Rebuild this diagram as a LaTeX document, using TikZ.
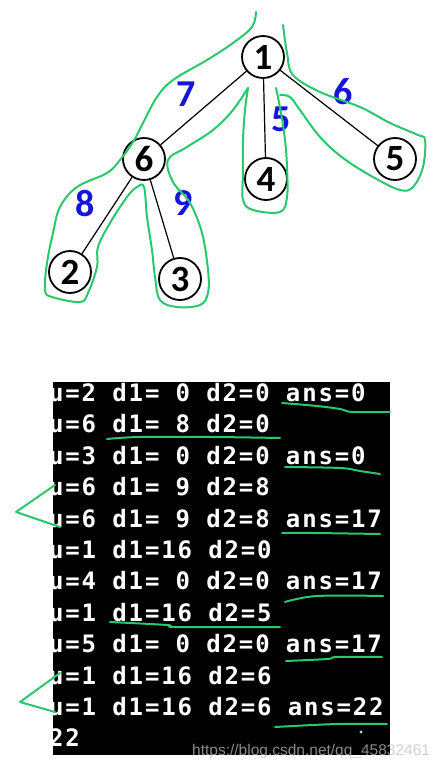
\documentclass[tikz,border=0pt]{standalone}
\usepackage{fontspec}
\setmainfont{Carlito}
\newfontfamily\consfont[LetterSpace=7.6]{DejaVu Sans Mono}
\newfontfamily\wmfont{Liberation Sans}
\definecolor{hand}{RGB}{40,200,110}
\definecolor{lbl}{RGB}{20,20,220}
\definecolor{wmark}{gray}{0.75}
\begin{document}
\begin{tikzpicture}[x=1pt,y=-1pt,
  vtx/.style={circle,draw,line width=1.8pt,minimum size=42pt,inner sep=0pt,
    font=\fontsize{37}{37}\selectfont\bfseries},
  wlbl/.style={text=lbl,inner sep=0pt,font=\fontsize{38}{38}\selectfont\bfseries},
  edge/.style={line width=1.2pt},
  pen/.style={hand,line width=2pt,line cap=round,line join=round},
  cons/.style={text=white,anchor=base west,inner sep=0pt,
    font=\fontsize{24}{24}\consfont\bfseries}]
\useasboundingbox (0,0) rectangle (443,770);
\fill[white] (0,0) rectangle (443,770);

% tree
\node[vtx] (n1) at (263,57) {1};
\node[vtx] (n6) at (144,159) {6};
\node[vtx] (n4) at (266,179) {4};
\node[vtx] (n5) at (395,159) {5};
\node[vtx] (n2) at (70,272) {2};
\node[vtx] (n3) at (180,279) {3};
\draw[edge] (n1) -- (n6);
\draw[edge] (n1) -- (n4);
\draw[edge] (n1) -- (n5);
\draw[edge] (n6) -- (n2);
\draw[edge] (n6) -- (n3);

\node[wlbl] (w7) at (186,94) {7};
\node[wlbl] (w6) at (343,92) {6};
\node[wlbl] (w5) at (281,119) {5};
\node[wlbl] (w8) at (85,204) {8};
\node[wlbl] (w9) at (183,203) {9};

% hand-drawn outline
\draw[pen] plot[smooth,tension=0.6] coordinates {(256,12) (252,27) (233,43) (207,60) (173,80)
  (157,97) (143,123) (133,142) (120,160) (107,173) (77,187) (60,207) (53,233) (47,263) (45,290)
  (52,297) (80,302) (88,293) (97,267) (98,247) (110,223) (127,197) (137,187) (144,187)
  (147,217) (152,250) (155,277) (160,300) (177,307) (200,305) (208,293) (208,270) (202,233)
  (190,203) (173,182) (168,160) (187,147) (213,130) (233,110) (248,88)};
\draw[pen] plot[smooth,tension=0.6] coordinates {(248,88) (245,110) (243,140) (243,173) (243,200)
  (253,210) (280,212) (287,197) (287,167) (285,140) (281,113) (276,88)};
\draw[pen] plot[smooth,tension=0.6] coordinates {(280,95) (290,97) (300,110) (320,137) (343,158)
  (373,177) (400,190) (413,187) (423,167) (425,140) (418,135) (390,123) (360,107) (320,92)
  (293,75) (287,53) (283,25)};

% console
\fill[black] (53,382) rectangle (390,755);
\begin{scope}
\clip (53,382) rectangle (390,755);
\node[cons] (l1) at (49,401.5) {u=2 d1=~0 d2=0 ans=0};
\node[cons] (l2) at (49,432.9) {u=6 d1=~8 d2=0};
\node[cons] (l3) at (49,464.3) {u=3 d1=~0 d2=0 ans=0};
\node[cons] (l4) at (49,495.7) {u=6 d1=~9 d2=8};
\node[cons] (l5) at (49,527.1) {u=6 d1=~9 d2=8 ans=17};
\node[cons] (l6) at (49,558.5) {u=1 d1=16 d2=0};
\node[cons] (l7) at (49,589.9) {u=4 d1=~0 d2=0 ans=17};
\node[cons] (l8) at (49,621.3) {u=1 d1=16 d2=5};
\node[cons] (l9) at (49,652.7) {u=5 d1=~0 d2=0 ans=17};
\node[cons] (l10) at (49,684.1) {u=1 d1=16 d2=6};
\node[cons] (l11) at (49,715.5) {u=1 d1=16 d2=6 ans=22};
\node[cons] (l12) at (49,746.9) {22};
\end{scope}

% underlines and brackets
\draw[pen] plot[smooth,tension=0.6] coordinates {(282,403) (317,406) (340,409) (353,412) (390,412)};
\draw[pen] plot[smooth,tension=0.6] coordinates {(107,439) (140,437) (213,437) (280,438)};
\draw[pen] plot[smooth,tension=0.6] coordinates {(285,467) (340,468) (360,471) (380,474)};
\draw[pen] (55,485) -- (16,512) -- (60,527);
\draw[pen] plot[smooth,tension=0.6] coordinates {(282,533) (313,533) (380,534)};
\draw[pen] plot[smooth,tension=0.6] coordinates {(285,602) (317,596) (383,596)};
\draw[pen] plot[smooth,tension=0.6] coordinates {(110,622) (167,625) (177,627) (280,627)};
\draw[pen] plot[smooth,tension=0.6] coordinates {(286,661) (327,659) (337,657) (382,657)};
\draw[pen] (60,673) -- (20,702) -- (55,712);
\draw[pen] plot[smooth,tension=0.6] coordinates {(275,727) (337,724) (387,724)};

\fill[cyan!40!white] (361,732) circle (1.6);

% watermark
\node[anchor=base west,inner sep=0pt,text=wmark,text opacity=0.72,
  font=\fontsize{15.5}{15.5}\wmfont] (wm) at (192,755) {https://blog.csdn.net/qq\_45832461};
\end{tikzpicture}
\end{document}
